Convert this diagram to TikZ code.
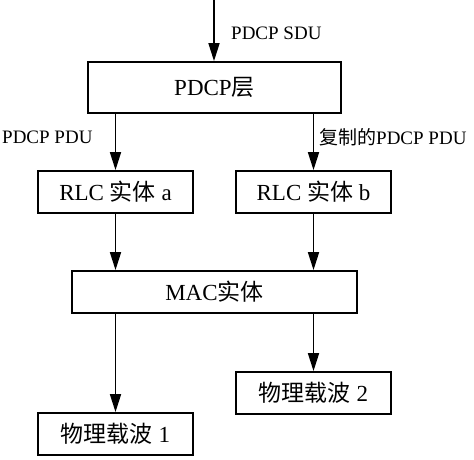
\documentclass[tikz,border=0pt]{standalone}
\usepackage{fontspec}
\setmainfont{Liberation Serif}
\newfontfamily\cjk{Noto Sans CJK SC}
\usetikzlibrary{arrows.meta}
\tikzset{
  box/.style={draw, line width=1.8pt, inner sep=0pt, minimum height=42pt, font=\fontsize{23}{26}\selectfont},
  arr/.style={line width=1.7pt, -{Triangle[length=18pt,width=11pt]}},
  lbl/.style={anchor=west, inner sep=0pt, font=\fontsize{19}{22}\selectfont}
}
\begin{document}
\begin{tikzpicture}[x=1pt,y=-1pt]
\useasboundingbox (0,0) rectangle (474,460);
\node[box, minimum width=253pt, minimum height=51pt] (pdcp) at (214.5,87.5) {PDCP{\cjk 层}};
\node[box, minimum width=155pt] (rlca) at (115.5,192) {RLC {\cjk 实体} a};
\node[box, minimum width=155pt] (rlcb) at (313.5,192) {RLC {\cjk 实体} b};
\node[box, minimum width=285pt] (mac) at (214.5,292) {MAC{\cjk 实体}};
\node[box, minimum width=155pt] (phy2) at (313.5,393) {{\cjk 物理载波} 2};
\node[box, minimum width=155pt] (phy1) at (115.5,434) {{\cjk 物理载波} 1};
\coordinate (in) at (214,0);
\node[lbl] (sdu) at (231,33) {PDCP SDU};
\node[lbl] (pdu) at (2,137) {PDCP PDU};
\node[lbl] (dup) at (319,137) {{\cjk 复制的}PDCP PDU};
\draw[arr] (in) -- (in |- pdcp.north);
\draw[arr] (rlca.north |- pdcp.south) -- (rlca.north);
\draw[arr] (rlcb.north |- pdcp.south) -- (rlcb.north);
\draw[arr] (rlca.south) -- (rlca.south |- mac.north);
\draw[arr] (rlcb.south) -- (rlcb.south |- mac.north);
\draw[arr] (phy2.north |- mac.south) -- (phy2.north);
\draw[arr] (phy1.north |- mac.south) -- (phy1.north);
\end{tikzpicture}
\end{document}
